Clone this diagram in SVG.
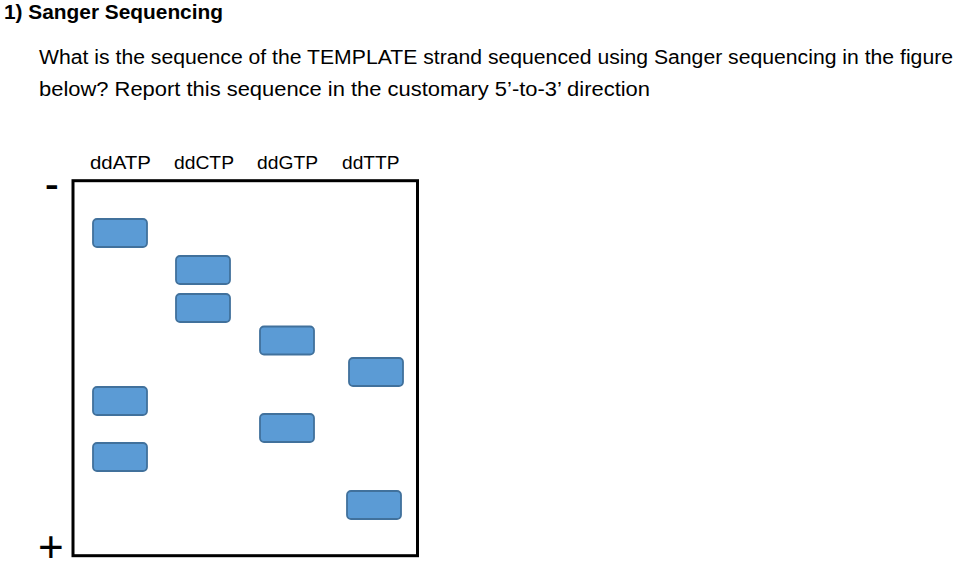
<svg xmlns="http://www.w3.org/2000/svg" width="960" height="574" viewBox="0 0 960 574">
<style>
.t{font-family:"Liberation Sans",Arial,sans-serif;fill:#000}
.band{fill:#5B9BD5;stroke:#41719C;stroke-width:1.8}
</style>
<rect width="960" height="574" fill="#fff"/>
<text class="t" x="4" y="19" font-size="20" font-weight="bold" textLength="219" lengthAdjust="spacingAndGlyphs">1)  Sanger Sequencing</text>
<text class="t" x="39" y="64" font-size="20" textLength="914" lengthAdjust="spacingAndGlyphs">What is the sequence of the TEMPLATE strand sequenced using Sanger sequencing in the figure</text>
<text class="t" x="39" y="96" font-size="20" textLength="611" lengthAdjust="spacingAndGlyphs">below? Report this sequence in the customary 5’-to-3’ direction</text>
<g id="labels">
<text class="t" x="90" y="169" font-size="19" textLength="61" lengthAdjust="spacingAndGlyphs">ddATP</text>
<text class="t" x="174" y="169" font-size="19" textLength="60" lengthAdjust="spacingAndGlyphs">ddCTP</text>
<text class="t" x="257" y="169" font-size="19" textLength="61" lengthAdjust="spacingAndGlyphs">ddGTP</text>
<text class="t" x="342" y="169" font-size="19" textLength="57.5" lengthAdjust="spacingAndGlyphs">ddTTP</text>
</g>
<text class="t" transform="translate(46,196.6) scale(1,1.8)" x="0" y="0" font-size="21" font-weight="bold">–</text>
<text class="t" x="38" y="562" font-size="44">+</text>
<g id="gel">
<rect x="73" y="180.7" width="344.5" height="375" fill="none" stroke="#000" stroke-width="3"/>
</g>
<g id="bands">
<rect id="A1" class="band" x="93" y="219" width="54" height="28" rx="4"/>
<rect id="C1" class="band" x="176" y="256" width="54" height="28" rx="4"/>
<rect id="C2" class="band" x="176" y="294" width="54" height="28" rx="4"/>
<rect id="G1" class="band" x="260" y="326.5" width="54" height="28" rx="4"/>
<rect id="T1" class="band" x="349" y="358" width="54" height="28" rx="4"/>
<rect id="A2" class="band" x="93" y="387" width="54" height="28" rx="4"/>
<rect id="G2" class="band" x="260" y="414" width="54" height="28" rx="4"/>
<rect id="A3" class="band" x="93" y="443" width="54" height="28" rx="4"/>
<rect id="T2" class="band" x="347" y="491" width="54" height="28" rx="4"/>
</g>
<g id="connectors"></g>
</svg>
